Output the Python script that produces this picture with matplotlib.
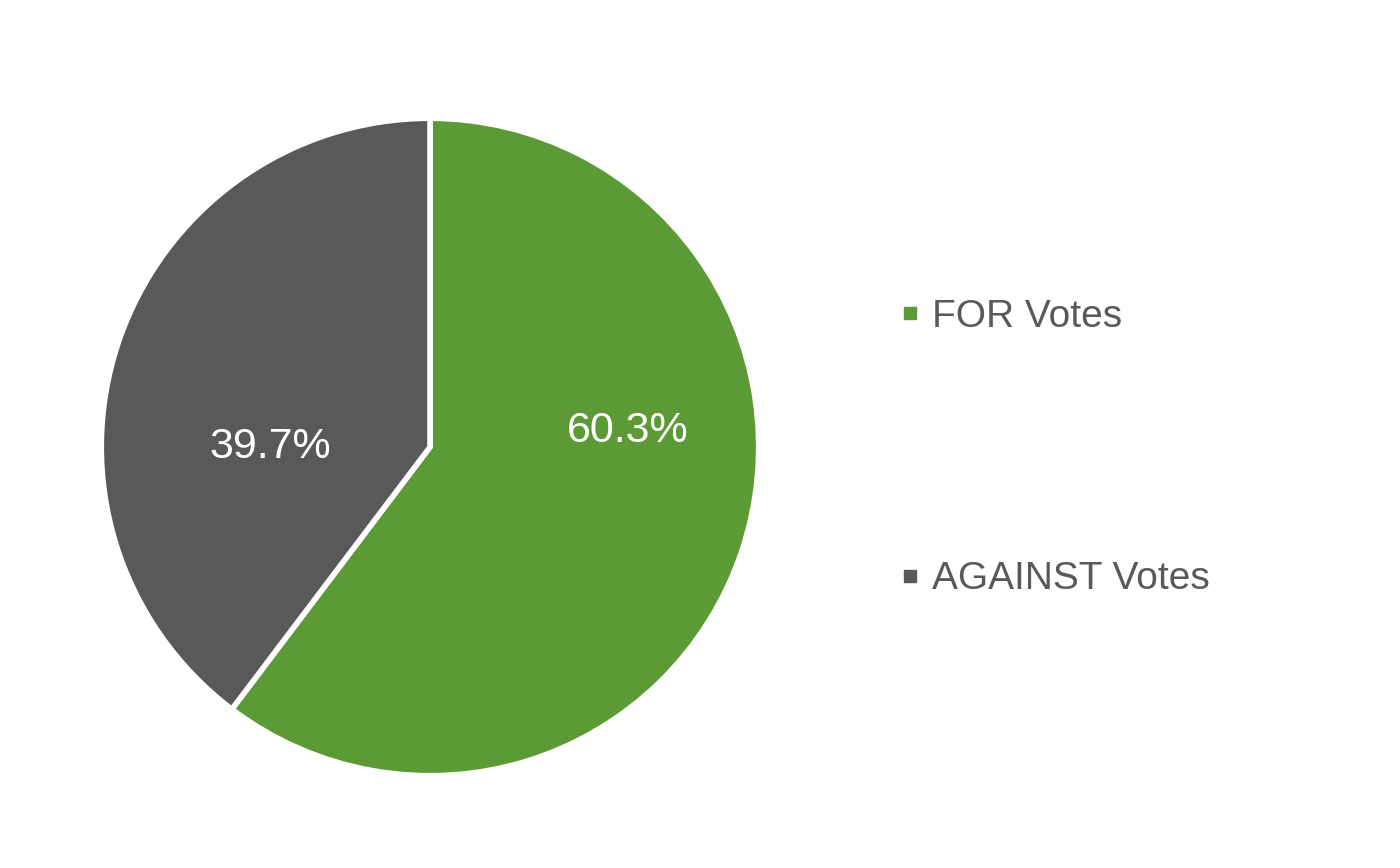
import matplotlib
matplotlib.use("Agg")
import matplotlib.pyplot as plt
from matplotlib.lines import Line2D

plt.rcParams['font.family'] = ['Liberation Sans', 'DejaVu Sans']

labels = ["FOR Votes", "AGAINST Votes"]
shares = [60.3, 39.7]
colors = ["#5B9A35", "#595959"]
# label positions in axes units (pie radius = 1), as Excel placed them
label_pos = [(0.60, 0.05), (-0.485, 0.0)]

fig = plt.figure(figsize=(14, 8.68), dpi=100)
ax = fig.add_axes([98 / 1400, 89 / 868, 664 / 1400, 664 / 868])

wedges, _ = ax.pie(shares, colors=colors, startangle=90, counterclock=False,
                   radius=1, wedgeprops=dict(edgecolor="white", linewidth=4))
ax.set_xlim(-1.01, 1.01)
ax.set_ylim(-1.01, 1.01)
ax.set_aspect("equal")

for s, (x, y) in zip(shares, label_pos):
    ax.text(x, y, "{:.1f}%".format(s), color="white", fontsize=31,
            ha="center", va="center")

handles = [Line2D([], [], marker="s", linestyle="none", markersize=8,
                  markerfacecolor=c, markeredgecolor=c) for c in colors]
leg = fig.legend(handles, labels, loc="center left",
                 bbox_to_anchor=(0.614, 0.4838), frameon=False,
                 fontsize=28, labelspacing=5.83, handletextpad=0.15,
                 handlelength=0.8)
for t in leg.get_texts():
    t.set_color("#595959")

fig.savefig("out.png", dpi=100)
